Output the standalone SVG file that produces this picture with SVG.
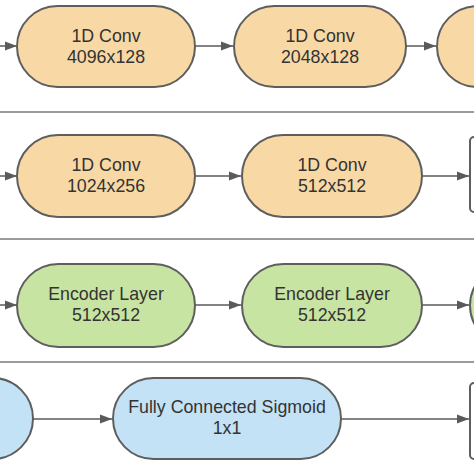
<svg xmlns="http://www.w3.org/2000/svg" width="474" height="474" viewBox="0 0 474 474">
<defs>
<marker id="ah" markerWidth="13" markerHeight="11" refX="12" refY="5.5" orient="auto" markerUnits="userSpaceOnUse">
<path d="M0,1 L12,5.5 L0,10 Z" fill="#5a5a5a"/>
</marker>
<style>
.sep{stroke:#7a7a7a;stroke-width:1.5;fill:none}
.edge{stroke:#5a5a5a;stroke-width:1.5;fill:none;marker-end:url(#ah)}
.node{stroke:#5e5e5e;stroke-width:2}
.or{fill:#f8d9a6}
.gr{fill:#c8e4a3}
.bl{fill:#c3e2f5}
.wh{fill:#ffffff}
text{font-family:"Liberation Sans",Arial,sans-serif;font-size:17.8px;fill:#333333;text-anchor:middle}
</style>
</defs>
<rect width="474" height="474" fill="#ffffff"/>
<g id="separators">
<line class="sep" x1="0" y1="112" x2="474" y2="112"/>
<line class="sep" x1="0" y1="239" x2="474" y2="239"/>
<line class="sep" x1="0" y1="362" x2="474" y2="362"/>
</g>
<g id="connectors">
<line class="edge" x1="0" y1="46" x2="17" y2="46"/>
<line class="edge" x1="195" y1="46" x2="233" y2="46"/>
<line class="edge" x1="406" y1="46" x2="436" y2="46"/>
<line class="edge" x1="0" y1="176" x2="17" y2="176"/>
<line class="edge" x1="195" y1="176" x2="241" y2="176"/>
<line class="edge" x1="422" y1="176" x2="469" y2="176"/>
<line class="edge" x1="0" y1="305" x2="17" y2="305"/>
<line class="edge" x1="195" y1="305" x2="241" y2="305"/>
<line class="edge" x1="422" y1="305" x2="469" y2="305"/>
<line class="edge" x1="33" y1="419" x2="112" y2="419"/>
<line class="edge" x1="341" y1="419" x2="469" y2="419"/>
</g>
<g id="conv1">
<rect class="node or" x="17" y="6" width="178" height="81" rx="40.5"/>
<text x="106" y="42">1D Conv</text>
<text x="106" y="63">4096x128</text>
</g>
<g id="conv2">
<rect class="node or" x="234" y="6" width="172" height="81" rx="40.5"/>
<text x="320" y="42">1D Conv</text>
<text x="320" y="63">2048x128</text>
</g>
<g id="conv3">
<rect class="node or" x="437" y="6" width="120" height="81" rx="40.5"/>
</g>
<g id="conv4">
<rect class="node or" x="17" y="135" width="178" height="82" rx="41"/>
<text x="106" y="171">1D Conv</text>
<text x="106" y="192">1024x256</text>
</g>
<g id="conv5">
<rect class="node or" x="242" y="135" width="180" height="82" rx="41"/>
<text x="332" y="171">1D Conv</text>
<text x="332" y="192">512x512</text>
</g>
<g id="box1">
<rect class="node wh" x="470" y="137" width="40" height="75" rx="4"/>
</g>
<g id="enc1">
<rect class="node gr" x="17" y="264" width="178" height="83" rx="41.5"/>
<text x="106" y="300">Encoder Layer</text>
<text x="106" y="321">512x512</text>
</g>
<g id="enc2">
<rect class="node gr" x="242" y="264" width="180" height="83" rx="41.5"/>
<text x="332" y="300">Encoder Layer</text>
<text x="332" y="321">512x512</text>
</g>
<g id="enc3">
<rect class="node gr" x="470" y="266" width="120" height="79" rx="39.5"/>
</g>
<g id="fc0">
<rect class="node bl" x="-150" y="378" width="183" height="81" rx="40.5"/>
</g>
<g id="fc1">
<rect class="node bl" x="113" y="378" width="228" height="81" rx="40.5"/>
<text x="227" y="413">Fully Connected Sigmoid</text>
<text x="227" y="434">1x1</text>
</g>
<g id="box2">
<rect class="node wh" x="470" y="383" width="40" height="76" rx="4"/>
</g>
</svg>
